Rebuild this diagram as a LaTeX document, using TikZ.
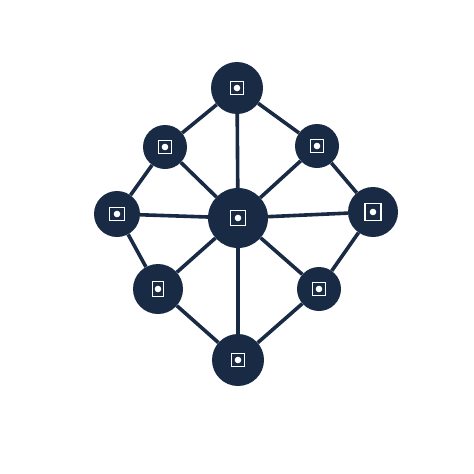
\documentclass[tikz,border=0pt]{standalone}
\definecolor{netNavy}{HTML}{182A44}

\begin{document}
\begin{tikzpicture}[
    x=1pt, y=-1pt,
    hub_style/.style={circle, fill=netNavy, inner sep=0},
    link_style/.style={netNavy, line width=3.6pt},
    icon_style/.style={white, line width=1.8pt}
]
    \useasboundingbox (0,0) rectangle (474,474);

    % --- 节点宏 ---
    \newcommand{\netnode}[5]{
        \node[hub_style, minimum size=#3*2pt] (#1) at (#2) {};
        \begin{scope}[shift={(#1.center)}]
            \draw[icon_style] (-#4/2, -#5/2) rectangle (#4/2, #5/2);
            \fill[white] (0,0) circle (3.3);
        \end{scope}
    }

    % --- 节点 ---
    \netnode{hubT}{237,88}{26}{13}{13}
    \netnode{hubUL}{165,147}{22}{13}{13}
    \netnode{hubUR}{317,146}{22}{13}{13}
    \netnode{hubL}{117,214}{23}{15}{13}
    \netnode{hubC}{238,218}{30}{15}{15}
    \netnode{hubR}{373,212}{25}{16}{17}
    \netnode{hubLL}{158,289}{25}{11}{15}
    \netnode{hubLR}{319,289}{22}{13}{13}
    \netnode{hubB}{238,360}{26}{13}{13}

    % --- 连线 ---
    \foreach \a/\b in {hubT/hubUL, hubT/hubUR, hubT/hubC, hubUL/hubL, hubUL/hubC,
                       hubUR/hubR, hubUR/hubC, hubL/hubC, hubL/hubLL, hubR/hubC,
                       hubR/hubLR, hubLL/hubC, hubLL/hubB, hubLR/hubC, hubLR/hubB,
                       hubC/hubB}
        \draw[link_style] (\a) -- (\b);

\end{tikzpicture}
\end{document}
